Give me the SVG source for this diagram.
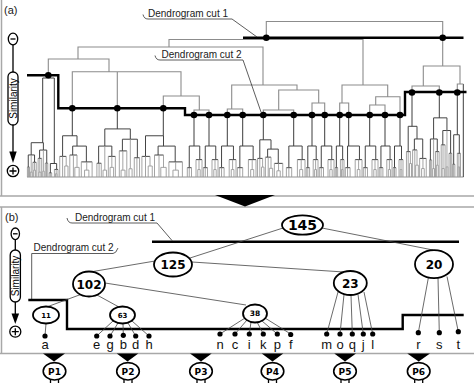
<svg xmlns="http://www.w3.org/2000/svg" width="474" height="383" viewBox="0 0 474 383">
<style>
.frame{stroke:#a8a8a8;stroke-width:1.5;fill:none}
.up{stroke:#8c8c8c;stroke-width:1.1;fill:none}
.dk{stroke:#3c3c3c;stroke-width:1;fill:none}
.td{stroke:#444;stroke-width:1;fill:none;vector-effect:non-scaling-stroke}
.tl{stroke:#9a9a9a;stroke-width:0.9;fill:none;vector-effect:non-scaling-stroke}
.base{stroke:#777;stroke-width:0.8;fill:none}
.cut{stroke:#000;stroke-width:2.4;fill:none}
.dot{fill:#000}
.lead{stroke:#333;stroke-width:0.8;fill:none}
.lbl{font-family:"Liberation Sans",Arial,sans-serif;font-size:10px;fill:#1a1a1a}
.plbl{font-family:"Liberation Sans",Arial,sans-serif;font-size:11px;fill:#1a1a1a}
.edge{stroke:#444;stroke-width:0.8;fill:none}
.node ellipse{fill:#fff;stroke:#000;stroke-width:1.8}
.num{font-family:"DejaVu Sans",sans-serif;font-weight:bold;fill:#000;text-anchor:middle}
.leaf{font-family:"Liberation Sans",Arial,sans-serif;font-size:13px;fill:#111;text-anchor:middle}
.axis{stroke:#000;stroke-width:1.3;fill:#fff}
.axl{stroke:#000;stroke-width:1.3;fill:none}
.sim{font-family:"Liberation Sans",Arial,sans-serif;font-size:10px;fill:#000;text-anchor:middle}
.tri{fill:#000}
.pn ellipse{fill:#fff;stroke:#000;stroke-width:1.6}
.ptxt{font-family:"DejaVu Sans",sans-serif;font-weight:bold;font-size:9px;fill:#000;text-anchor:middle}
</style>
<defs>
<g id="T1">
<path class="td" d="M0.2,0.3H0.78M0.2,0.3V0.55M0.06,0.55H0.36M0.78,0.3V0.45M0.6,0.45H0.94M0.06,0.55V0.8M0.02,0.8H0.12M0.36,0.55V0.7M0.28,0.7H0.44M0.6,0.45V0.62M0.53,0.62H0.7M0.94,0.45V0.72M0.87,0.72H0.99"/>
<path class="tl" d="M0.02,0.8V1M0.07,0.8V1M0.12,0.8V1M0.28,0.7V1M0.44,0.7V1M0.36,0.7V0.86M0.32,0.86H0.4M0.32,0.86V1M0.4,0.86V1M0.53,0.62V1M0.7,0.62V1M0.61,0.62V0.9M0.57,0.9H0.66M0.57,0.9V1M0.66,0.9V1M0.87,0.72V1M0.99,0.72V1M0.93,0.72V1M0.78,0.45V0.88M0.75,0.88H0.82M0.75,0.88V1M0.82,0.88V1M0.2,0.55V0.9M0.16,0.9H0.24M0.16,0.9V1M0.24,0.9V1"/>
</g>
<g id="T2">
<path class="td" d="M0.1,0.4H0.5M0.1,0.4V0.7M0.02,0.7H0.2M0.5,0.4V0.55M0.38,0.55H0.76M0.38,0.55V0.68M0.3,0.68H0.5M0.76,0.55V0.78M0.62,0.78H0.92"/>
<path class="tl" d="M0.02,0.7V1M0.1,0.7V1M0.2,0.7V0.84M0.16,0.84H0.25M0.16,0.84V1M0.25,0.84V1M0.3,0.68V1M0.5,0.68V0.86M0.44,0.86H0.56M0.44,0.86V1M0.56,0.86V1M0.62,0.78V1M0.92,0.78V1M0.77,0.78V0.9M0.71,0.9H0.83M0.71,0.9V1M0.83,0.9V1M0.4,0.68V1"/>
</g>
<g id="T3">
<path class="td" d="M0.15,0.5H0.85M0.85,0.5V0.72M0.6,0.72H1M0.15,0.5V0.85M0.02,0.85H0.3"/>
<path class="tl" d="M0.02,0.85V1M0.15,0.85V1M0.3,0.85V1M0.6,0.72V1M1,0.72V1M0.8,0.72V0.88M0.72,0.88H0.88M0.72,0.88V1M0.88,0.88V1"/>
</g>
</defs>

<rect x="0" y="0" width="474" height="383" fill="#fff"/>

<g id="frames">
<path class="frame" d="M1.5,0V196M0,196H474M0,207H474M1.5,207V353.5M0,353.5H474"/>
<polygon class="tri" points="215,195 275,195 245,206.5"/>
</g>

<g id="panel-a">
<text class="plbl" x="4" y="14">(a)</text>
<g id="axis-a">
<path class="axl" d="M13,45V72M13,125V153"/>
<ellipse class="axis" cx="13" cy="39" rx="4.7" ry="5.8"/>
<path class="axl" d="M10.5,39H15.5"/>
<rect class="axis" x="8" y="72" width="10" height="53" rx="4.8"/>
<text class="sim" transform="translate(16.6,98.5) rotate(-90)">Similarity</text>
<polygon points="9.3,151.5 16.7,151.5 13,163" fill="#000"/>
<circle class="axis" cx="13" cy="171" r="5.7"/>
<path class="axl" d="M9.5,171H16.5M13,167.5V174.5"/>
</g>
<g id="dendrogram">
<path class="base" d="M27,177H463.5"/>
<use href="#T1" transform="translate(27,128) scale(21,49)"/>
<use href="#T3" transform="translate(49,150) scale(9,27)"/>
<use href="#T2" transform="translate(59,108.3) scale(36,68.7)"/>
<use href="#T1" transform="translate(96,108.3) scale(44,68.7)"/>
<use href="#T2" transform="translate(141,108.3) scale(45,68.7)"/>
<use href="#T3" transform="translate(187,115) scale(15,62)"/>
<use href="#T3" transform="translate(203,115) scale(15,62)"/>
<use href="#T3" transform="translate(219,115) scale(17,62)"/>
<use href="#T3" transform="translate(237,115) scale(19,62)"/>
<use href="#T2" transform="translate(257,115) scale(28,62)"/>
<use href="#T3" transform="translate(286,115) scale(19,62)"/>
<use href="#T3" transform="translate(306,115) scale(12,62)"/>
<use href="#T3" transform="translate(319,115) scale(15,62)"/>
<use href="#T3" transform="translate(335,115) scale(9,62)"/>
<use href="#T3" transform="translate(345,115) scale(17,62)"/>
<use href="#T3" transform="translate(363,115) scale(15,62)"/>
<use href="#T3" transform="translate(379,115) scale(13,62)"/>
<use href="#T3" transform="translate(393,115) scale(10,62)"/>
<use href="#T2" transform="translate(406,92.5) scale(22,84.5)"/>
<use href="#T1" transform="translate(429,92.5) scale(23,84.5)"/>
<use href="#T3" transform="translate(452.5,92.5) scale(8,84.5)"/>
<path class="dk" d="M42.7,78V142.7M54.3,78V163.5M72.3,108.3V135.8M117.3,108.3V128.9M163.3,108.3V135.8M194,115V146M209,115V146M227.3,115V146M242.7,115V146M263.3,115V139.8M293.7,115V146M312,115V146M324.7,115V146M339.7,115V146M348.7,115V146M369.7,115V146M385,115V146M400,115V146M412,92.5V126.3M439.3,92.5V117.9M457.3,92.5V134.75M463.3,84V177M48.3,75.3V78M42.7,78H54.3"/>
<path class="up" d="M266.3,37.7V21.5H442.7V37.7M169,47V39.5H363V85M78,59V47H263V85M48.3,75.3V59H109V71.7M72.3,108.3V71.7H181V96M117.3,71.7V108.3M163.3,108.3V96H199.3V110M194,115V110H209V115M231.7,109V85H297V90M227.3,115V109H242.7V115M278.7,110V90H318.7V103M263.3,115V110H293.7V115M312,115V103H324.7V115M342,103V85H387.7V96.7M339.7,115V103H348.7V115M375.7,105V96.7H400V115M369.7,115V105H385V115M442.7,37.7V66M423.3,86V66H460V84M412,92.5V86H439.3V92.5M457.3,92.5V84H463.3"/>
<path class="cut" d="M243,37.7H463.5"/>
<path class="cut" d="M27,75.3H58.3V108.3H185V115H405V92H466.5"/>
<g class="dot">
<circle cx="266.3" cy="37.7" r="3.3"/><circle cx="442.7" cy="37.7" r="3.3"/>
<circle cx="48.3" cy="75.3" r="3.3"/><circle cx="72.3" cy="108.3" r="3.3"/><circle cx="117.3" cy="108.3" r="3.3"/><circle cx="163.3" cy="108.3" r="3.3"/>
<circle cx="194" cy="115" r="3.3"/><circle cx="209" cy="115" r="3.3"/><circle cx="227.3" cy="115" r="3.3"/><circle cx="242.7" cy="115" r="3.3"/>
<circle cx="263.3" cy="115" r="3.3"/><circle cx="293.7" cy="115" r="3.3"/><circle cx="312" cy="115" r="3.3"/><circle cx="324.7" cy="115" r="3.3"/>
<circle cx="339.7" cy="115" r="3.3"/><circle cx="348.7" cy="115" r="3.3"/><circle cx="369.7" cy="115" r="3.3"/><circle cx="385" cy="115" r="3.3"/>
<circle cx="400" cy="115" r="3.3"/><circle cx="412" cy="92.5" r="3.3"/><circle cx="439.3" cy="92.5" r="3.3"/><circle cx="457.3" cy="92.5" r="3.3"/>
</g>
</g>
<g id="cut-labels-a">
<path class="lead" d="M143,14.5Q144,19 148,19H232L257,37"/>
<text class="lbl" x="148" y="17">Dendrogram cut 1</text>
<path class="lead" d="M155,55.5Q156,60 160,60H243L261,112"/>
<text class="lbl" x="161.5" y="58">Dendrogram cut 2</text>
</g>
</g>

<g id="panel-b">
<text class="plbl" x="5" y="221">(b)</text>
<g id="axis-b">
<path class="axl" d="M15.3,239.6V250M15.3,302V314"/>
<ellipse class="axis" cx="15.3" cy="233.8" rx="4.2" ry="5.8"/>
<path class="axl" d="M13,233.8H17.6"/>
<rect class="axis" x="10.2" y="250" width="10.2" height="52" rx="5"/>
<text class="sim" transform="translate(18.9,276) rotate(-90)">Similarity</text>
<polygon points="11.5,313.5 19.1,313.5 15.3,324" fill="#000"/>
<circle class="axis" cx="15.3" cy="331.7" r="5.5"/>
<path class="axl" d="M11.8,331.7H18.8M15.3,328.2V335.2"/>
</g>
<g id="cuts-b">
<path class="lead" d="M67,218Q68,223 72,223H157L172,240.5"/>
<text class="lbl" x="75" y="220.5">Dendrogram cut 1</text>
<path class="lead" d="M118,248Q116,253.5 113,253.5H31.7V300"/>
<text class="lbl" x="33.5" y="251">Dendrogram cut 2</text>
<path class="cut" d="M152,241.7H459"/>
<path class="cut" d="M28.3,300H67V329H402.7V315H463.7"/>
</g>
<g id="connectors">
<path class="edge" d="M283,228L190,258M322,228L433,250M155,261L90,272M192,262L344,272M82,294L48,306.5M97,295L118,306.5M105,283L246,305"/>
<path class="edge" d="M46,323.5L45,336M113,321L96.7,336M118,323L110,336M123,323.5L123.3,335M128,323L135.7,336M132,321L149,336M245,318L220,334M247,320L235,334M251,322L249.3,334M257,322L263.3,334M262,321L277.3,334M265,318L290.7,334M338,292L326.7,334M344,294.5L340,334M351,295L352.3,334M358,294.5L363.3,334M364,292L372.7,334M428.5,277L418.3,332.7M438,278L439.3,332.7M447,276.5L458.3,331.7"/>
</g>
<g id="node-145" class="node"><ellipse cx="302.5" cy="225" rx="20.5" ry="9.7"/><text class="num" x="302.5" y="230" font-size="14">145</text></g>
<g id="node-125" class="node"><ellipse cx="173" cy="264.5" rx="19" ry="12"/><text class="num" x="173" y="269" font-size="12">125</text></g>
<g id="node-102" class="node"><ellipse cx="89" cy="284" rx="16" ry="12.5"/><text class="num" x="89" y="288.5" font-size="12">102</text></g>
<g id="node-11" class="node"><ellipse cx="46" cy="315" rx="13" ry="8.5"/><text class="num" x="46" y="317.6" font-size="7">11</text></g>
<g id="node-63" class="node"><ellipse cx="122.5" cy="315" rx="12.5" ry="8.5"/><text class="num" x="122.5" y="317.6" font-size="7">63</text></g>
<g id="node-38" class="node"><ellipse cx="255" cy="313.5" rx="12" ry="9"/><text class="num" x="255" y="316.3" font-size="7.5">38</text></g>
<g id="node-23" class="node"><ellipse cx="350.3" cy="283" rx="16.5" ry="12"/><text class="num" x="350.3" y="287.5" font-size="12">23</text></g>
<g id="node-20" class="node"><ellipse cx="434" cy="264.2" rx="19" ry="14"/><text class="num" x="434" y="268.7" font-size="12">20</text></g>
<g id="leaves" class="dot">
<circle cx="45" cy="336" r="2.6"/><circle cx="96.7" cy="336" r="2.6"/><circle cx="110" cy="336" r="2.6"/><circle cx="123.3" cy="335.3" r="2.6"/><circle cx="135.7" cy="336" r="2.6"/><circle cx="149" cy="336" r="2.6"/>
<circle cx="220" cy="334" r="2.6"/><circle cx="235" cy="334" r="2.6"/><circle cx="249.3" cy="334" r="2.6"/><circle cx="263.3" cy="334" r="2.6"/><circle cx="277.3" cy="334" r="2.6"/><circle cx="290.7" cy="334.5" r="2.6"/>
<circle cx="326.7" cy="334" r="2.6"/><circle cx="340" cy="334" r="2.6"/><circle cx="352.3" cy="334" r="2.6"/><circle cx="363.3" cy="334" r="2.6"/><circle cx="372.7" cy="334" r="2.6"/>
<circle cx="418.3" cy="332.7" r="2.6"/><circle cx="439.3" cy="332.7" r="2.6"/><circle cx="458.3" cy="331.7" r="2.6"/>
</g>
<g id="leaf-labels">
<text class="leaf" x="45" y="348.5">a</text><text class="leaf" x="96.7" y="348.5">e</text><text class="leaf" x="110" y="348.5">g</text><text class="leaf" x="123.3" y="348.5">b</text><text class="leaf" x="135.7" y="348.5">d</text><text class="leaf" x="149" y="348.5">h</text>
<text class="leaf" x="220" y="348.5">n</text><text class="leaf" x="235" y="348.5">c</text><text class="leaf" x="249.3" y="348.5">i</text><text class="leaf" x="263.3" y="348.5">k</text><text class="leaf" x="277.3" y="348.5">p</text><text class="leaf" x="290.7" y="348.5">f</text>
<text class="leaf" x="326.7" y="348.5">m</text><text class="leaf" x="340" y="348.5">o</text><text class="leaf" x="352.3" y="348.5">q</text><text class="leaf" x="363.3" y="348.5">j</text><text class="leaf" x="372.7" y="348.5">l</text>
<text class="leaf" x="418.3" y="348.5">r</text><text class="leaf" x="439.3" y="348.5">s</text><text class="leaf" x="458.3" y="348.5">t</text>
</g>
</g>

<g id="partitions">
<g id="P1" class="pn"><polygon class="tri" points="43,353.5 65,353.5 54,361.5"/><path class="axl" d="M50.5,378V383M58.5,378V383" stroke-width="2"/><ellipse cx="54.5" cy="371.3" rx="11.3" ry="8.7"/><text class="ptxt" x="54.5" y="374.5">P1</text></g>
<g id="P2" class="pn"><polygon class="tri" points="116.7,353.5 138.3,353.5 127.5,361.5"/><path class="axl" d="M124,378V383M132,378V383" stroke-width="2"/><ellipse cx="128" cy="371.3" rx="11.3" ry="8.7"/><text class="ptxt" x="128" y="374.5">P2</text></g>
<g id="P3" class="pn"><polygon class="tri" points="190,353.5 211.7,353.5 201,361.5"/><path class="axl" d="M197,378V383M205,378V383" stroke-width="2"/><ellipse cx="201" cy="371.3" rx="11.3" ry="8.7"/><text class="ptxt" x="201" y="374.5">P3</text></g>
<g id="P4" class="pn"><polygon class="tri" points="261.7,353.5 283.3,353.5 272.5,361.5"/><path class="axl" d="M268.5,378V383M276.5,378V383" stroke-width="2"/><ellipse cx="272.5" cy="371.3" rx="11.3" ry="8.7"/><text class="ptxt" x="272.5" y="374.5">P4</text></g>
<g id="P5" class="pn"><polygon class="tri" points="334.3,353.5 356,353.5 345,361.5"/><path class="axl" d="M341,378V383M349,378V383" stroke-width="2"/><ellipse cx="345" cy="371.3" rx="11.3" ry="8.7"/><text class="ptxt" x="345" y="374.5">P5</text></g>
<g id="P6" class="pn"><polygon class="tri" points="407.3,353.5 430,353.5 418.7,361.5"/><path class="axl" d="M414.7,378V383M422.7,378V383" stroke-width="2"/><ellipse cx="418.7" cy="371.3" rx="11.3" ry="8.7"/><text class="ptxt" x="418.7" y="374.5">P6</text></g>
</g>
</svg>
